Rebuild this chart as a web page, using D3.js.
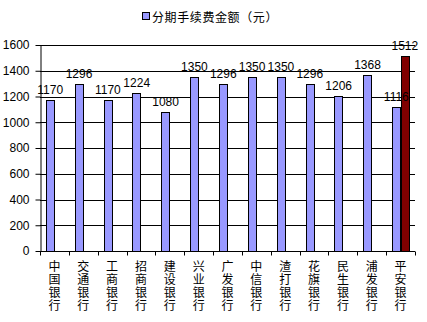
<!DOCTYPE html>
<html>
<head>
<meta charset="utf-8">
<script src="https://cdn.jsdelivr.net/npm/d3@7"></script>
<style>
  body { margin: 0; background: #fff; }
  svg { display: block; }
  text { font-family: "Liberation Sans", Arial, sans-serif; fill: #000; }
  .cjk { font-family: "Noto Sans CJK SC", sans-serif; }
</style>
</head>
<body>
<svg id="chart"></svg>
<script>
const banks = ["中国银行", "交通银行", "工商银行", "招商银行", "建设银行", "兴业银行", "广发银行",
  "中信银行", "渣打银行", "花旗银行", "民生银行", "浦发银行", "平安银行"];
const feeValues = [1170, 1296, 1170, 1224, 1080, 1350, 1296, 1350, 1350, 1296, 1206, 1368, 1116];
const highlightValues = [null, null, null, null, null, null, null, null, null, null, null, null, 1512];
const yTicks = [0, 200, 400, 600, 800, 1000, 1200, 1400, 1600];
const legendLabel = "分期手续费金额（元）";

const width = 427;
const height = 322;
const margin = { top: 45, right: 12, bottom: 71, left: 40 };

const svg = d3.select("#chart")
  .attr("width", width)
  .attr("height", height);

const x = d3.scaleBand()
  .domain(banks)
  .range([margin.left, width - margin.right])
  .padding(0);

const xInner = d3.scaleBand()
  .domain(["fee", "highlight"])
  .range([0, x.bandwidth()])
  .paddingInner(0)
  .paddingOuter(0.7);

const y = d3.scaleLinear()
  .domain([0, 1600])
  .range([height - margin.bottom, margin.top]);

// gridlines
svg.append("g")
  .selectAll("line")
  .data(yTicks.filter(d => d > 0))
  .join("line")
  .attr("x1", margin.left)
  .attr("x2", width - margin.right)
  .attr("y1", d => Math.round(y(d)) + 0.5)
  .attr("y2", d => Math.round(y(d)) + 0.5)
  .attr("stroke", "#000");

// bars
const rows = banks.map((b, i) => ({ bank: b, fee: feeValues[i], highlight: highlightValues[i] }));
const bars = [];
rows.forEach(r => {
  bars.push({ bank: r.bank, key: "fee", value: r.fee });
  if (r.highlight != null) bars.push({ bank: r.bank, key: "highlight", value: r.highlight });
});

svg.append("g")
  .selectAll("rect")
  .data(bars)
  .join("rect")
  .attr("x", d => Math.round(x(d.bank) + xInner(d.key)) + 0.5)
  .attr("y", d => Math.round(y(d.value)) + 0.5)
  .attr("width", Math.round(xInner.bandwidth()))
  .attr("height", d => Math.round(y(0)) - Math.round(y(d.value)))
  .attr("fill", d => d.key === "fee" ? "#9999ff" : "#800000")
  .attr("stroke", "#000");

// y axis
const yAxis = svg.append("g")
  .attr("transform", `translate(${margin.left + 0.5},0)`)
  .call(d3.axisLeft(y).tickValues(yTicks).tickFormat(d3.format("d"))
    .tickSize(5).tickPadding(6).tickSizeOuter(0));
yAxis.select(".domain").attr("stroke", "#000");
yAxis.selectAll(".tick line").attr("stroke", "#000");
yAxis.selectAll(".tick text").attr("font-size", 12).attr("font-family", "Liberation Sans, Arial, sans-serif");

// x axis line and ticks between categories
const x0 = Math.round(y(0)) + 0.5;
svg.append("line")
  .attr("x1", margin.left).attr("x2", width - margin.right)
  .attr("y1", x0).attr("y2", x0)
  .attr("stroke", "#000");
const boundaries = banks.map(b => x(b)).concat([x.range()[1]]);
svg.append("g")
  .selectAll("line")
  .data(boundaries)
  .join("line")
  .attr("x1", d => Math.round(d) + 0.5)
  .attr("x2", d => Math.round(d) + 0.5)
  .attr("y1", x0)
  .attr("y2", x0 + 4)
  .attr("stroke", "#000");

// vertical category labels
svg.append("g")
  .selectAll("text")
  .data(banks)
  .join("text")
  .attr("class", "cjk")
  .attr("font-size", 12)
  .attr("x", d => x(d) + x.bandwidth() / 2)
  .attr("y", 260)
  .style("writing-mode", "vertical-rl")
  .style("text-orientation", "upright")
  .attr("letter-spacing", 1.3)
  .text(d => d);

// value labels
svg.append("g")
  .selectAll("text")
  .data(bars)
  .join("text")
  .attr("x", d => x(d.bank) + xInner(d.key) + xInner.bandwidth() / 2)
  .attr("y", d => y(d.value) - 6)
  .attr("text-anchor", "middle")
  .attr("font-size", 12)
  .text(d => d.value);

// legend
const legend = svg.append("g").attr("transform", "translate(142,12)");
legend.append("rect")
  .attr("x", 0.5).attr("y", 0.5)
  .attr("width", 7).attr("height", 7)
  .attr("fill", "#9999ff")
  .attr("stroke", "#000");
legend.append("text")
  .attr("class", "cjk")
  .attr("x", 10)
  .attr("y", 4)
  .attr("dominant-baseline", "central")
  .attr("font-size", 12)
  .attr("letter-spacing", 0.6)
  .text(legendLabel);
</script>
</body>
</html>
